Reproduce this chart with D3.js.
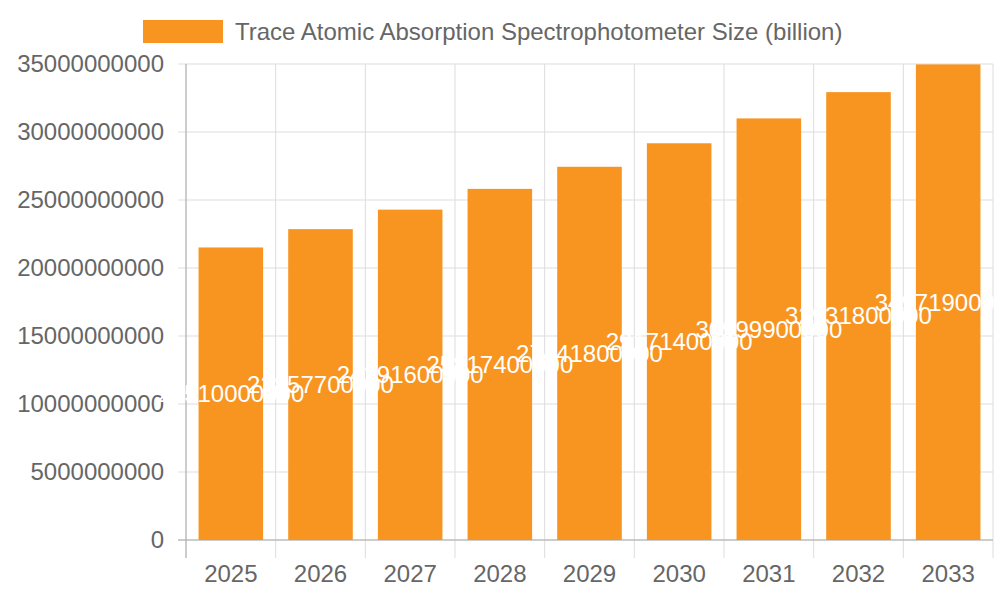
<!DOCTYPE html><html><head><meta charset="utf-8"><script src="https://cdn.jsdelivr.net/npm/d3@7"></script>
<style>body{margin:0;background:#fff}text{font-family:"Liberation Sans",Arial,sans-serif}</style></head><body>
<svg id="c" width="1000" height="600"></svg>
<script>
const years=["2025","2026","2027","2028","2029","2030","2031","2032","2033"];
const values=[21510000000,22857700000,24291600000,25817400000,27441800000,29171400000,30999900000,32931800000,34971900000];
const yTicks=[0,5000000000,10000000000,15000000000,20000000000,25000000000,30000000000,35000000000];
const seriesName="Trace Atomic Absorption Spectrophotometer Size (billion)";
const svg=d3.select("#c");
const L=186,R=993,T=64,B=540;
const x=d3.scaleBand().domain(years).range([L,R]).paddingInner(0).paddingOuter(0);
const y=d3.scaleLinear().domain([0,35000000000]).range([B,T]);
const bw=x.bandwidth()*0.72;
svg.append("g").selectAll("line").data(yTicks).join("line").attr("x1",L-8).attr("x2",R).attr("y1",d=>y(d)).attr("y2",d=>y(d)).attr("stroke","#ddd");
const vx=years.map(d=>x(d)).concat([R]);
svg.append("g").selectAll("line").data(vx).join("line").attr("x1",d=>d).attr("x2",d=>d).attr("y1",T).attr("y2",B+18).attr("stroke","#ddd");
svg.append("line").attr("x1",L).attr("x2",L).attr("y1",T).attr("y2",B+18).attr("stroke","#aaa");
svg.append("line").attr("x1",L-8).attr("x2",R).attr("y1",B).attr("y2",B).attr("stroke","#aaa");
svg.append("g").selectAll("text").data(yTicks).join("text").attr("x",L-22).attr("y",d=>y(d)).attr("dy","0.35em").attr("text-anchor","end").attr("font-size",24).attr("fill","#666").text(d=>d);
svg.append("g").selectAll("text").data(years).join("text").attr("x",d=>x(d)+x.bandwidth()/2).attr("y",B+42).attr("text-anchor","middle").attr("font-size",24).attr("fill","#666").text(d=>d);
svg.append("g").selectAll("rect").data(values).join("rect").attr("x",(d,i)=>x(years[i])+(x.bandwidth()-bw)/2).attr("width",bw).attr("y",d=>y(d)).attr("height",d=>B-y(d)).attr("fill","#f89521");
svg.append("g").selectAll("text").data(values).join("text").attr("x",(d,i)=>x(years[i])+x.bandwidth()/2).attr("y",d=>(y(d)+B)/2).attr("dy","0.35em").attr("text-anchor","middle").attr("font-size",24).attr("fill","#fff").text(d=>d);
svg.append("rect").attr("x",143).attr("y",20).attr("width",80).attr("height",23).attr("fill","#f89521");
svg.append("text").attr("x",235).attr("y",32).attr("dy","0.35em").attr("font-size",24).attr("fill","#666").text(seriesName);
</script></body></html>
